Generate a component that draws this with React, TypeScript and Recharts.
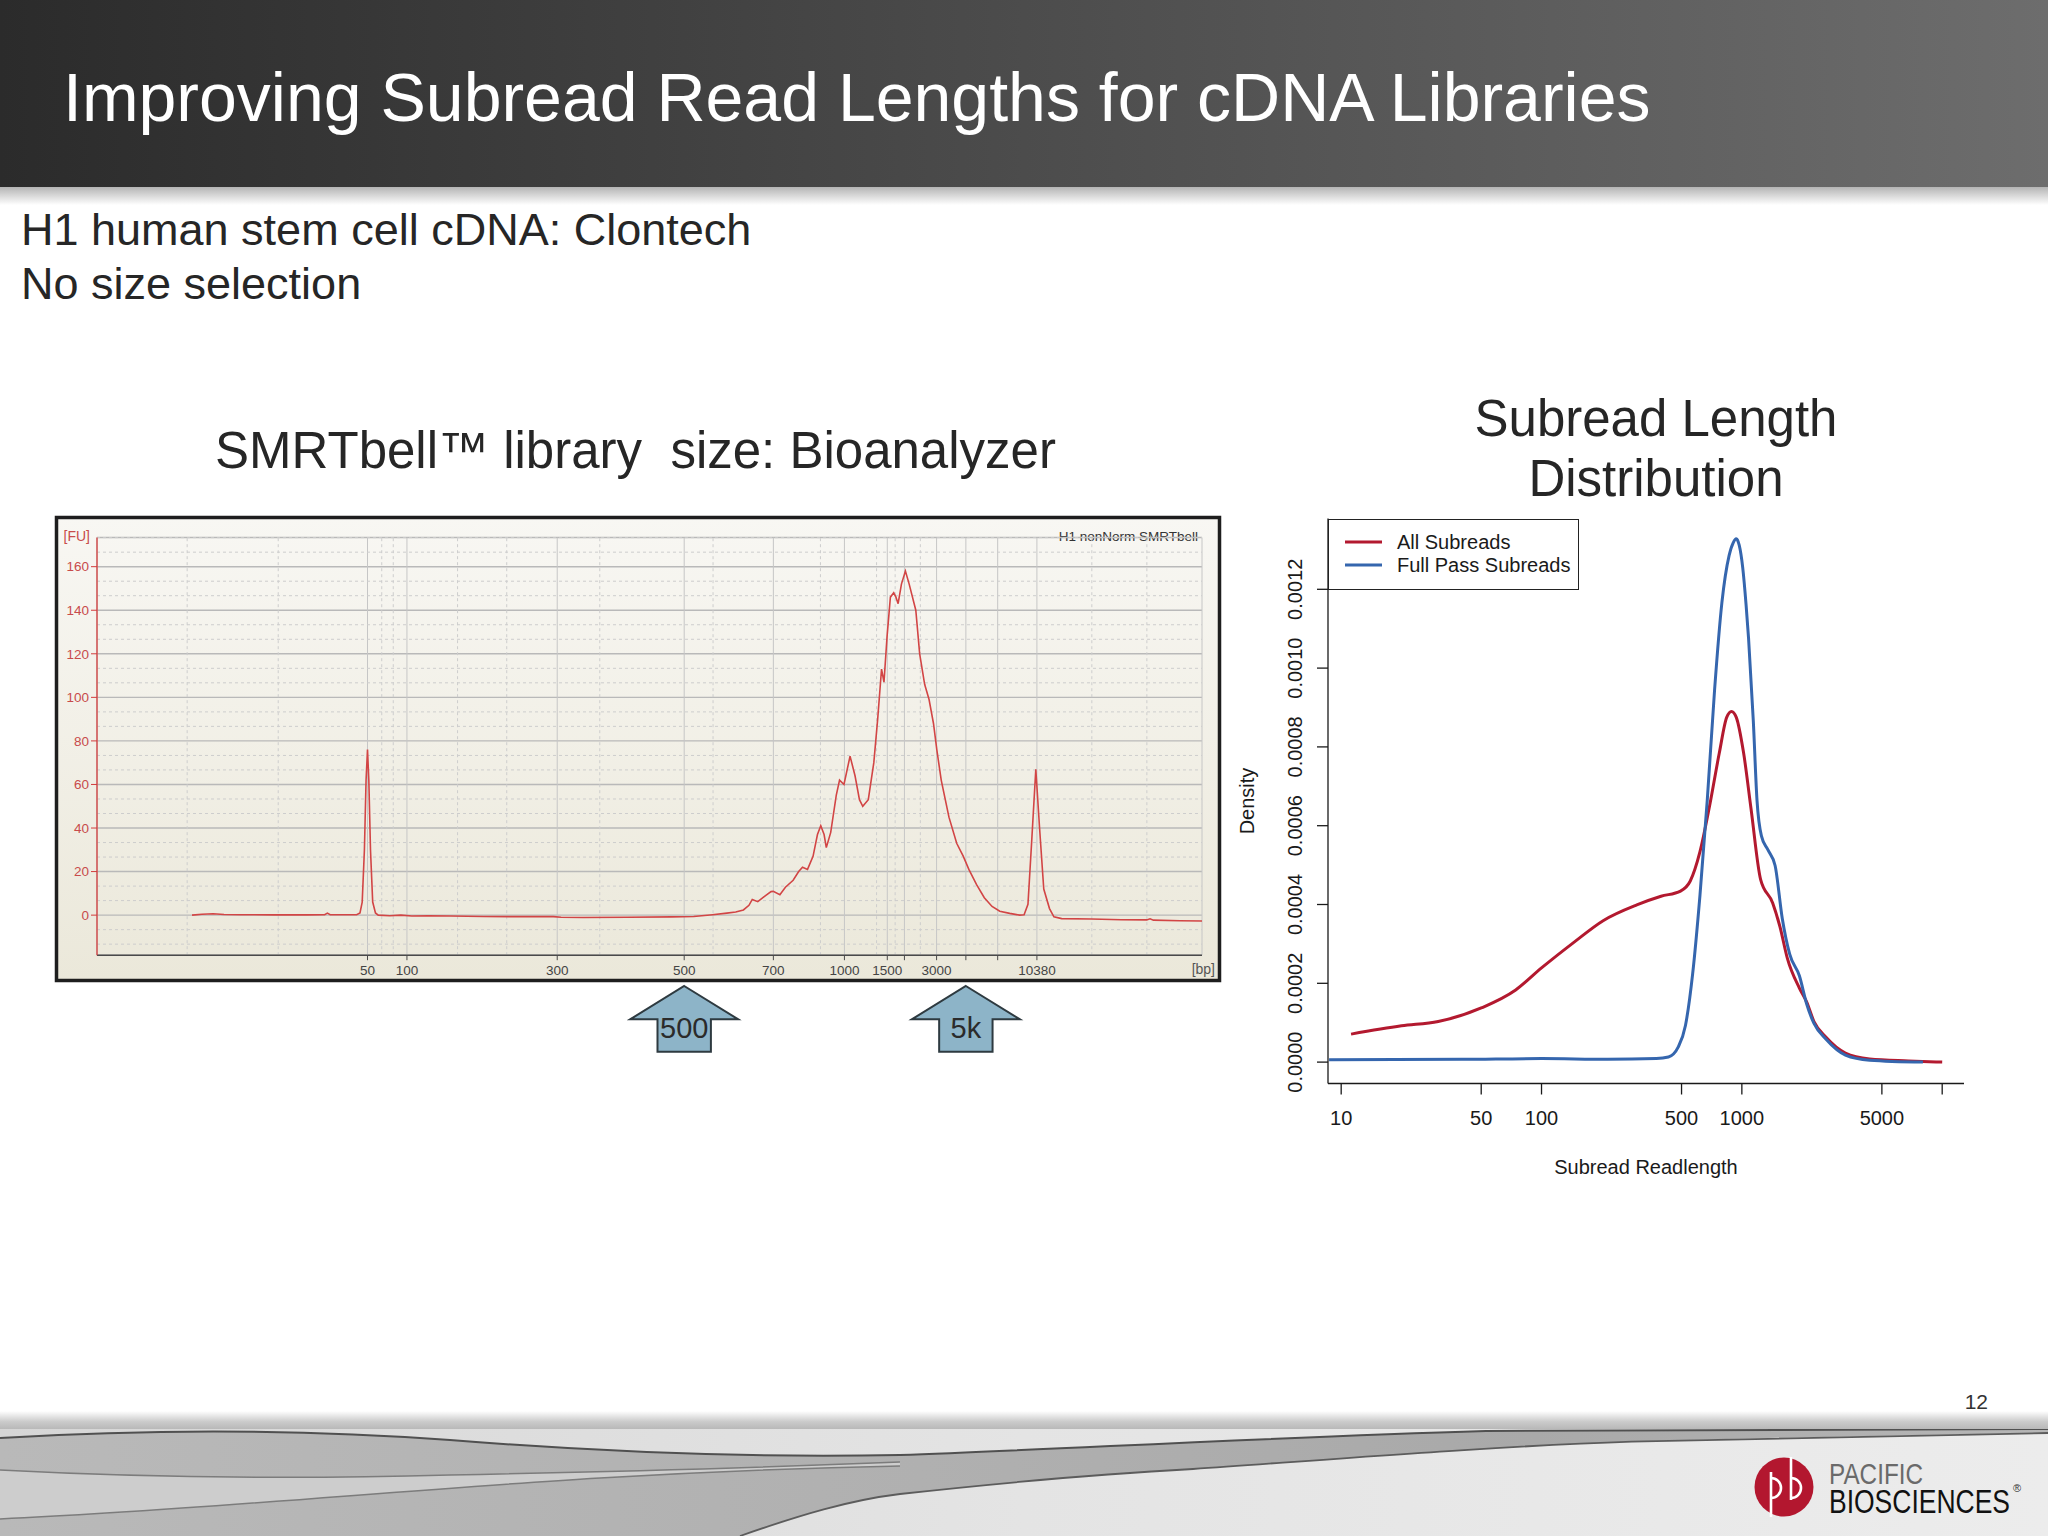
import React from 'react';
import {
  LineChart,
  Line,
  XAxis,
  YAxis,
  CartesianGrid,
  ReferenceLine,
  ReferenceDot,
  Legend,
} from 'recharts';

const FONT = '"Liberation Sans", Arial, Helvetica, sans-serif';

// ---------------- Bioanalyzer electropherogram (x = migration position, 0..100) ----------------
const bioPos = [
  8.6, 9.5, 10.5, 11.5, 13, 16, 19, 20.6, 20.85, 21.1, 23.5, 23.8, 24.0, 24.2, 24.35, 24.48, 24.6,
  24.75, 24.95, 25.2, 25.45, 26.5, 27.5, 28.5, 30, 32, 35, 38, 41.3, 42, 44, 48, 52, 54, 55.7, 57,
  57.8, 58.5, 59.0, 59.3, 59.8, 60.5, 61.0, 61.2, 61.8, 62.3, 63.0, 63.5, 63.85, 64.3, 64.8, 65.2,
  65.5, 65.8, 66.0, 66.4, 66.9, 67.2, 67.6, 68.15, 68.6, 69.0, 69.3, 69.8, 70.3, 70.65, 71.0, 71.22,
  71.5, 71.8, 72.1, 72.3, 72.5, 72.8, 73.16, 73.5, 74.1, 74.45, 74.9, 75.3, 75.7, 76.0, 76.4, 77.1,
  77.8, 78.4, 78.9, 79.6, 80.3, 81.0, 81.7, 82.6, 83.5, 83.9, 84.25, 84.6, 84.96, 85.3, 85.68, 86.2,
  86.6, 87.3, 90, 92.7, 95, 95.3, 95.6, 98, 100,
];
const bioFu = [
  0, 0.4, 0.6, 0.3, 0.2, 0.1, 0.1, 0.2, 0.9, 0.2, 0.2, 1, 6, 30, 62, 76, 62, 30, 6, 1, 0, -0.3, 0,
  -0.4, -0.3, -0.4, -0.6, -0.7, -0.7, -1.0, -1.1, -1.0, -0.8, -0.6, 0.2, 0.9, 1.4, 2.4, 4.5, 7.2,
  6.2, 9, 10.8, 10.9, 9.4, 12.8, 16, 20, 22, 21, 27, 37, 41, 37, 31, 38, 55, 62, 60, 73, 64, 53, 50,
  53, 70, 90, 113, 107, 128, 146, 148, 146, 143, 152, 158, 152, 140, 120, 106, 99, 88, 76, 62, 45,
  33, 27, 21, 14, 8, 4, 1.8, 0.8, 0, 0.2, 5, 35, 67, 40, 12, 3, -0.8, -1.6, -1.8, -2.1, -2.2, -1.7,
  -2.3, -2.6, -2.7,
];
const bioTickBp = ['50', '100', '300', '500', '700', '1000', '1500', '2000', '3000', '5000', '7000', '10380'];
const bioTickPos = [24.48, 28.05, 41.65, 53.14, 61.21, 67.64, 71.52, 73.07, 75.98, 78.63, 81.51, 85.06];
const bioTickText = ['50', '100', '300', '500', '700', '1000', '1500', '', '3000', '', '', '10380'];
const bioMinorPos = [8.16, 16.4, 25.77, 26.81, 32.63, 37.08, 45.5, 55.75, 65.47, 70.55, 72.23, 74.51, 90.03, 95.01];
const fuTicks = [0, 20, 40, 60, 80, 100, 120, 140, 160];
const fuMinor = [
  -13.33, -6.67, 6.67, 13.33, 26.67, 33.33, 46.67, 53.33, 66.67, 73.33, 86.67, 93.33, 106.67, 113.33,
  126.67, 133.33, 146.67, 153.33, 166.67, 173.33,
];
const arrowBp = ['500', '5000'];
const arrowText = ['500', '5k'];

// ---------------- Subread length density ----------------
const allLen = [11.2, 20, 30.5, 50.4, 74.3, 100, 145, 203, 299, 395, 494, 552, 618, 690, 772, 840, 888, 938, 1020, 1110, 1240, 1425, 1549, 1686, 1937, 2105, 2291, 2632, 3288, 4345, 6790, 10000];
const allDen = [7.1e-5, 9.2e-5, 1.03e-4, 1.38e-4, 1.83e-4, 2.39e-4, 3.04e-4, 3.59e-4, 3.99e-4, 4.21e-4, 4.34e-4, 4.59e-4, 5.34e-4, 6.5e-4, 7.85e-4, 8.75e-4, 8.9e-4, 8.75e-4, 7.85e-4, 6.45e-4, 4.64e-4, 4.04e-4, 3.44e-4, 2.64e-4, 1.88e-4, 1.53e-4, 1.03e-4, 6.3e-5, 2.3e-5, 8e-6, 3e-6, 0];
const fullLen = [8.7, 40, 100, 214, 374, 430, 481, 523, 568, 618, 672, 731, 795, 864, 905, 938, 970, 1010, 1050, 1080, 1141, 1190, 1252, 1348, 1465, 1592, 1733, 1937, 2105, 2291, 2632, 3288, 4345, 8015];
const fullDen = [6e-6, 7e-6, 9e-6, 7e-6, 9e-6, 1.3e-5, 3.8e-5, 9.3e-5, 2.24e-4, 4.24e-4, 6.65e-4, 9.45e-4, 1.166e-3, 1.286e-3, 1.318e-3, 1.328e-3, 1.312e-3, 1.255e-3, 1.16e-3, 1.076e-3, 8.65e-4, 6.65e-4, 5.74e-4, 5.39e-4, 4.99e-4, 3.64e-4, 2.74e-4, 2.19e-4, 1.48e-4, 9.8e-5, 5.8e-5, 1.8e-5, 5e-6, 0];
const lenTicks = [10, 50, 100, 500, 1000, 5000, 10000];
const lenTickText = ['10', '50', '100', '500', '1000', '5000', ''];
const denTicks = [0, 0.0002, 0.0004, 0.0006, 0.0008, 0.001, 0.0012];
const seriesNames = ['All Subreads', 'Full Pass Subreads'];

const bioData = bioPos.map((p, i) => ({ pos: p, fu: bioFu[i] }));
const allData = allLen.map((l, i) => ({ len: l, den: allDen[i] }));
const fullData = fullLen.map((l, i) => ({ len: l, den: fullDen[i] }));

const RED = '#b3192f';
const BLUE = '#3566ae';

const bioTickFmt = (v: number) => {
  const i = bioTickPos.indexOf(v);
  return i >= 0 ? bioTickText[i] : '';
};
const lenTickFmt = (v: number) => {
  const i = lenTicks.indexOf(v);
  return i >= 0 ? lenTickText[i] : '';
};

const makeArrow = (text: string) => (props: any) => {
  const { cx, cy } = props;
  if (cx == null || cy == null) return <g />;
  const t = cy + 30.8;
  const hb = cy + 64.1;
  const bt = cy + 96.5;
  const pts = [
    [cx, t],
    [cx + 54, hb],
    [cx + 26.7, hb],
    [cx + 26.7, bt],
    [cx - 26.7, bt],
    [cx - 26.7, hb],
    [cx - 54, hb],
  ]
    .map((p) => p.join(','))
    .join(' ');
  return (
    <g>
      <polygon points={pts} fill="#8db4c8" stroke="#2e3a40" strokeWidth={2} strokeLinejoin="miter" />
      <text x={cx} y={cy + 83.1} textAnchor="middle" fontSize={29} fill="#2b2b2b" fontFamily={FONT}>
        {text}
      </text>
    </g>
  );
};

const RotYTick = (props: any) => {
  const { x, y, payload } = props;
  return (
    <text
      x={x}
      y={y}
      transform={`rotate(-90 ${x} ${y})`}
      textAnchor="middle"
      fontSize={20}
      fill="#1a1a1a"
      fontFamily={FONT}
    >
      {Number(payload.value).toFixed(4)}
    </text>
  );
};

const RLegend = (props: any) => {
  const payload = props.payload || [];
  return (
    <div
      style={{
        position: 'relative',
        width: 251,
        height: 71,
        boxSizing: 'border-box',
        border: '1.3px solid #222',
        fontFamily: FONT,
        fontSize: 20,
        color: '#1a1a1a',
      }}
    >
      {payload.map((item: any, i: number) => (
        <div
          key={i}
          style={{ position: 'absolute', left: 0, top: 22.2 + 23.5 * i - 12, height: 24, width: 250 }}
        >
          <svg width={60} height={24} style={{ position: 'absolute', left: 0, top: 0 }}>
            <line x1={16} x2={53} y1={12} y2={12} stroke={item.color} strokeWidth={3} />
          </svg>
          <span style={{ position: 'absolute', left: 68, top: 0, lineHeight: '24px', whiteSpace: 'nowrap' }}>
            {item.value}
          </span>
        </div>
      ))}
    </div>
  );
};

const Background = () => (
  <svg width={2048} height={1536} style={{ position: 'absolute', left: 0, top: 0 }}>
    <defs>
      <linearGradient id="titleGrad" x1="0" y1="0" x2="1" y2="0">
        <stop offset="0" stopColor="#2b2b2b" />
        <stop offset="1" stopColor="#6d6d6d" />
      </linearGradient>
      <linearGradient id="titleShadow" x1="0" y1="0" x2="0" y2="1">
        <stop offset="0" stopColor="#b4b4b4" />
        <stop offset="1" stopColor="#ffffff" />
      </linearGradient>
      <linearGradient id="boxGrad" x1="0" y1="0" x2="0" y2="1">
        <stop offset="0" stopColor="#f8f7f3" />
        <stop offset="1" stopColor="#ebe8da" />
      </linearGradient>
      <linearGradient id="footShadow" x1="0" y1="0" x2="0" y2="1">
        <stop offset="0" stopColor="#ffffff" />
        <stop offset="0.6" stopColor="#cacaca" />
        <stop offset="1" stopColor="#b8b8b8" />
      </linearGradient>
      <linearGradient id="footBase" x1="0" y1="0" x2="1" y2="0">
        <stop offset="0" stopColor="#d6d6d6" />
        <stop offset="0.5" stopColor="#e4e4e4" />
        <stop offset="1" stopColor="#ececec" />
      </linearGradient>
      <linearGradient id="footBand" x1="0" y1="0" x2="1" y2="0">
        <stop offset="0" stopColor="#b9b9b9" />
        <stop offset="0.45" stopColor="#b0b0b0" />
        <stop offset="0.75" stopColor="#a9a9a9" />
        <stop offset="1" stopColor="#b6b6b6" />
      </linearGradient>
    </defs>
    <rect x={0} y={0} width={2048} height={1536} fill="#ffffff" />
    {/* title bar */}
    <rect x={0} y={0} width={2048} height={187} fill="url(#titleGrad)" />
    <rect x={0} y={187} width={2048} height={18} fill="url(#titleShadow)" />
    <text x={63} y={120.5} fontSize={68} fill="#ffffff" fontFamily={FONT}>
      Improving Subread Read Lengths for cDNA Libraries
    </text>
    <text x={21} y={244.5} fontSize={45} fill="#262626" fontFamily={FONT}>
      H1 human stem cell cDNA: Clontech
    </text>
    <text x={21} y={298.7} fontSize={45} fill="#262626" fontFamily={FONT}>
      No size selection
    </text>
    <text x={635.5} y={467.5} fontSize={51} fill="#262626" fontFamily={FONT} textAnchor="middle" style={{ whiteSpace: 'pre' }}>
      {'SMRTbell\u2122 library  size: Bioanalyzer'}
    </text>
    <text x={1656} y={435.5} fontSize={51} fill="#262626" fontFamily={FONT} textAnchor="middle">
      Subread Length
    </text>
    <text x={1656} y={495.5} fontSize={51} fill="#262626" fontFamily={FONT} textAnchor="middle">
      Distribution
    </text>
    {/* bioanalyzer frame */}
    <rect x={56.5} y={517.5} width={1163} height={463} fill="url(#boxGrad)" stroke="#1e1e1e" strokeWidth={3.5} />
    <text x={1198} y={540.5} fontSize={13.5} fill="#333" fontFamily={FONT} textAnchor="end">
      H1 nonNorm SMRTbell
    </text>
    {/* footer */}
    <rect x={0} y={1416} width={2048} height={120} fill="url(#footBase)" />
    <path
      d="M0,1438 C150,1429 300,1429 450,1440 C600,1452 750,1458 900,1455 C1050,1450 1250,1438 1486,1431 L2048,1429 L2048,1433 C1950,1434 1800,1437 1632,1441.6 C1500,1446 1350,1458 1193,1469 C1100,1474 1000,1483 900,1494 C850,1500 800,1515 740,1536 L0,1536 Z"
      fill="url(#footBand)"
    />
    <path
      d="M0,1470 C150,1478 300,1479 450,1475 C650,1471 800,1466 900,1462 L900,1466 C800,1468 700,1472 600,1478 C400,1490 200,1510 0,1519 Z"
      fill="#cdcdcd"
    />
    <path d="M0,1470 C150,1478 300,1479 450,1475 C650,1471 800,1466 900,1462" fill="none" stroke="#7c7c7c" strokeWidth={1.5} />
    <path d="M0,1519 C200,1510 400,1490 600,1478 C700,1472 800,1468 900,1466" fill="none" stroke="#7c7c7c" strokeWidth={1.5} />
    <path d="M0,1438 C150,1429 300,1429 450,1440 C600,1452 750,1458 900,1455 C1050,1450 1250,1438 1486,1431 L2048,1429" fill="none" stroke="#505050" strokeWidth={2} />
    <path d="M2048,1433 C1950,1434 1800,1437 1632,1441.6 C1500,1446 1350,1458 1193,1469 C1100,1474 1000,1483 900,1494 C850,1500 800,1515 740,1536" fill="none" stroke="#5c5c5c" strokeWidth={1.8} />
    <rect x={0} y={1411} width={2048} height={18} fill="url(#footShadow)" />
    <text x={1988} y={1408.5} fontSize={21} fill="#333" fontFamily={FONT} textAnchor="end">
      12
    </text>
    {/* logo */}
    <circle cx={1784} cy={1487} r={29.5} fill="#b3172f" />
    <path d="M1771,1472 L1771,1517" stroke="#fff" strokeWidth={2.6} fill="none" />
    <path d="M1771,1478 A10,10 0 1 1 1771,1498" stroke="#fff" strokeWidth={2.6} fill="none" />
    <path d="M1791,1457 L1791,1500" stroke="#fff" strokeWidth={2.6} fill="none" />
    <path d="M1791,1478 A10,10 0 1 1 1791,1498" stroke="#fff" strokeWidth={2.6} fill="none" />
    <text x={1829} y={1483.5} fontSize={30} fill="#6a6a6a" fontFamily={FONT} textLength={94} lengthAdjust="spacingAndGlyphs">
      PACIFIC
    </text>
    <text x={1829} y={1513} fontSize={33} fill="#111" fontFamily={FONT} textLength={181} lengthAdjust="spacingAndGlyphs">
      BIOSCIENCES
    </text>
    <text x={2013} y={1492} fontSize={11} fill="#333" fontFamily={FONT}>
      ®
    </text>
  </svg>
);

const BioChart = () => (
  <div style={{ position: 'absolute', left: 55, top: 516, width: 1166, height: 544 }}>
    <LineChart width={1166} height={544} data={bioData} margin={{ top: 21.5, right: 19, bottom: 74.8, left: 0 }}>
      <CartesianGrid vertical={false} stroke="#b9b9b9" strokeWidth={1.4} />
      <CartesianGrid horizontal={false} stroke="#c6c6c6" strokeWidth={1} />
      {bioMinorPos.map((p) => (
        <ReferenceLine key={'vx' + p} x={p} stroke="#cdcdcd" strokeDasharray="3 3" strokeWidth={1} />
      ))}
      {fuMinor.map((v) => (
        <ReferenceLine key={'hy' + v} y={v} stroke="#cdcdcd" strokeDasharray="3 3" strokeWidth={1} ifOverflow="extendDomain" />
      ))}
      <XAxis
        dataKey="pos"
        type="number"
        domain={[0, 100]}
        ticks={bioTickPos}
        interval={0}
        allowDataOverflow
        tickFormatter={bioTickFmt}
        height={30}
        tickSize={5}
        tickMargin={5}
        tick={{ fontSize: 13.5, fill: '#444', fontFamily: FONT }}
        axisLine={{ stroke: '#4a4a4a', strokeWidth: 1.5 }}
        tickLine={{ stroke: '#4a4a4a' }}
        label={{
          content: (p: any) => {
            const vb = p.viewBox || {};
            return (
              <text x={vb.x + vb.width + 13} y={vb.y + 19} textAnchor="end" fontSize={14} fill="#555" fontFamily={FONT}>
                [bp]
              </text>
            );
          },
        }}
      />
      <YAxis
        type="number"
        domain={[-18.4, 173.4]}
        ticks={fuTicks}
        interval={0}
        allowDataOverflow
        width={42}
        tickSize={6}
        tickMargin={2}
        tick={{ fontSize: 13.5, fill: '#c84b4b', fontFamily: FONT }}
        axisLine={{ stroke: '#d23c3c', strokeWidth: 1.3 }}
        tickLine={{ stroke: '#d23c3c' }}
        label={{
          content: (p: any) => {
            const vb = p.viewBox || {};
            return (
              <text x={vb.x + vb.width - 7} y={vb.y + 3} textAnchor="end" fontSize={14} fill="#c84b4b" fontFamily={FONT}>
                [FU]
              </text>
            );
          },
        }}
      />
      <Line dataKey="fu" type="linear" stroke="#d24545" strokeWidth={1.6} dot={false} isAnimationActive={false} />
      {arrowBp.map((bp, i) => (
        <ReferenceDot
          key={'arrow' + bp}
          x={bioTickPos[bioTickBp.indexOf(bp)]}
          y={-18.4}
          r={0}
          ifOverflow="visible"
          shape={makeArrow(arrowText[i])}
        />
      ))}
    </LineChart>
  </div>
);

const DensityChart = () => (
  <div style={{ position: 'absolute', left: 1220, top: 500, width: 800, height: 700 }}>
    <LineChart width={800} height={700} margin={{ top: 18.5, right: 56, bottom: 16.5, left: 18 }}>
      <XAxis
        xAxisId="bottom"
        dataKey="len"
        type="number"
        scale="log"
        domain={[8.594, 12849]}
        allowDataOverflow
        ticks={lenTicks}
        interval={0}
        tickFormatter={lenTickFmt}
        height={100}
        tickSize={11}
        tickMargin={16}
        tick={{ fontSize: 20, fill: '#1a1a1a', fontFamily: FONT }}
        axisLine={{ stroke: '#1a1a1a', strokeWidth: 1.3 }}
        tickLine={{ stroke: '#1a1a1a', strokeWidth: 1.3 }}
        label={{
          content: (p: any) => {
            const vb = p.viewBox || {};
            return (
              <text x={vb.x + vb.width / 2} y={vb.y + 90.5} textAnchor="middle" fontSize={20} fill="#1a1a1a" fontFamily={FONT}>
                Subread Readlength
              </text>
            );
          },
        }}
      />
      <XAxis
        xAxisId="top"
        orientation="top"
        type="number"
        scale="log"
        domain={[8.594, 12849]}
        allowDataOverflow
        height={0}
        tick={false}
        tickLine={false}
        axisLine={{ stroke: '#1a1a1a', strokeWidth: 1.3 }}
      />
      <YAxis
        yAxisId="left"
        type="number"
        domain={[-0.0000543, 0.0013797]}
        allowDataOverflow
        ticks={denTicks}
        interval={0}
        width={90}
        tickSize={11}
        tickMargin={15.3}
        tick={<RotYTick />}
        axisLine={{ stroke: '#1a1a1a', strokeWidth: 1.3 }}
        tickLine={{ stroke: '#1a1a1a', strokeWidth: 1.3 }}
        label={{
          content: (p: any) => {
            const vb = p.viewBox || {};
            const x = vb.x + 16;
            const y = vb.y + vb.height / 2;
            return (
              <text x={x} y={y} transform={`rotate(-90 ${x} ${y})`} textAnchor="middle" fontSize={20} fill="#1a1a1a" fontFamily={FONT}>
                Density
              </text>
            );
          },
        }}
      />
      <YAxis
        yAxisId="right"
        orientation="right"
        type="number"
        domain={[-0.0000543, 0.0013797]}
        allowDataOverflow
        width={0}
        tick={false}
        tickLine={false}
        axisLine={{ stroke: '#1a1a1a', strokeWidth: 1.3 }}
      />
      <Legend
        layout="horizontal"
        verticalAlign="middle"
        align="center"
        wrapperStyle={{ position: 'absolute', left: 108, top: 18.5, width: 251, height: 71, margin: 0, padding: 0 }}
        content={RLegend}
      />
      <Line
        xAxisId="bottom"
        yAxisId="left"
        data={allData}
        dataKey="den"
        name={seriesNames[0]}
        type="monotone"
        stroke={RED}
        strokeWidth={3}
        dot={false}
        isAnimationActive={false}
      />
      <Line
        xAxisId="bottom"
        yAxisId="left"
        data={fullData}
        dataKey="den"
        name={seriesNames[1]}
        type="monotone"
        stroke={BLUE}
        strokeWidth={3}
        dot={false}
        isAnimationActive={false}
      />
    </LineChart>
  </div>
);

export default function App() {
  return (
    <div style={{ position: 'absolute', left: 0, top: 0, width: 2048, height: 1536, overflow: 'hidden', background: '#fff' }}>
      <Background />
      <BioChart />
      <DensityChart />
    </div>
  );
}
